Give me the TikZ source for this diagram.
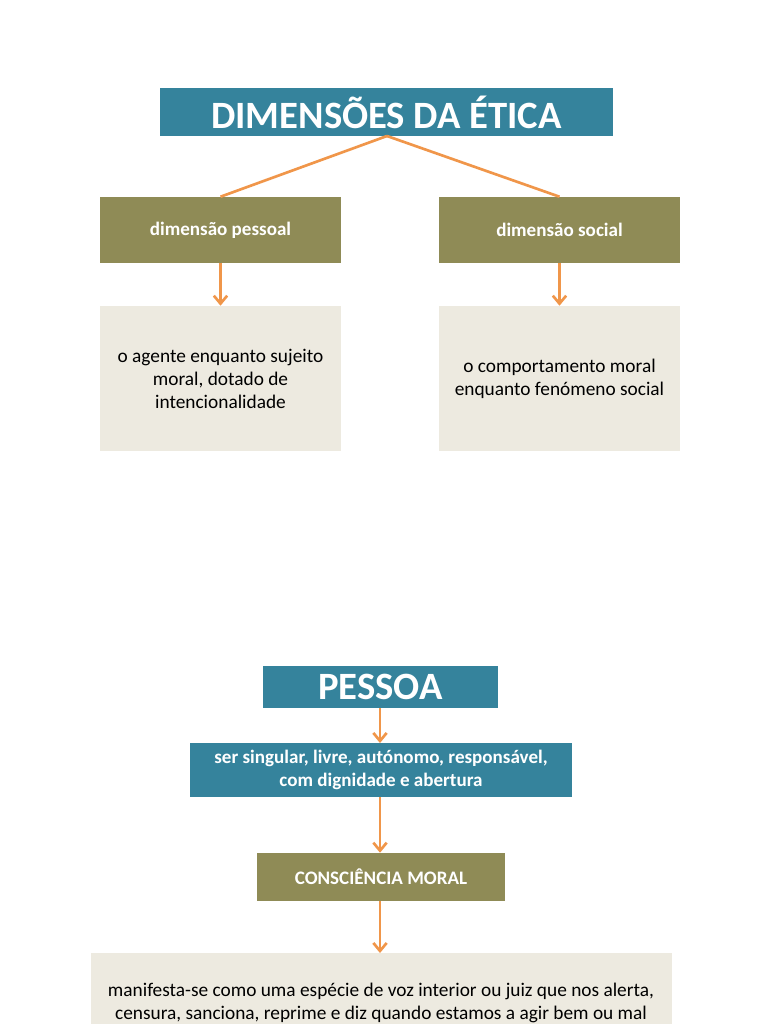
\documentclass[tikz,border=0pt]{standalone}
\usepackage{fontspec}
\setmainfont{Carlito}
\usetikzlibrary{arrows.meta}
\definecolor{teal}{HTML}{35839C}
\definecolor{olive}{HTML}{8F8B56}
\definecolor{pale}{HTML}{EDEAE0}
\definecolor{org}{HTML}{F0964A}
\begin{document}
\begin{tikzpicture}[x=0.75pt,y=-0.75pt,
  tbox/.style={fill=teal,text=white,font=\bfseries,inner sep=0},
  obox/.style={fill=olive,text=white,font=\bfseries\fontsize{14.3}{17}\selectfont,inner sep=0},
  pbox/.style={fill=pale,text=black,font=\fontsize{14.5}{17.2}\selectfont,inner sep=0,align=center},
  con/.style={draw=org,line width=2pt},
  arr/.style={con,-{Straight Barb[length=6pt,width=10pt]}}]
\useasboundingbox (0,0) rectangle (768,1024);
\clip (0,0) rectangle (768,1024);
\path[tbox] (160,88) rectangle (613,136);
\node[text=white,font=\bfseries\fontsize{29}{32}\selectfont] (t) at (386.5,112) {DIMENSÕES DA ÉTICA};
\node[obox,minimum width=241*0.75pt,minimum height=66*0.75pt] (dp) at (220.5,230) {dimensão pessoal};
\node[obox,minimum width=241*0.75pt,minimum height=66*0.75pt] (ds) at (559.5,230) {dimensão social};
\node[pbox,minimum width=241*0.75pt,minimum height=145*0.75pt] (ap) at (220.5,378.5) {o agente enquanto sujeito\\moral, dotado de\\intencionalidade};
\node[pbox,minimum width=241*0.75pt,minimum height=145*0.75pt] (as) at (559.5,378.5) {o comportamento moral\\enquanto fenómeno social};
\coordinate (tb) at (387,136);
\draw[con] (tb) -- (dp.north);
\draw[con] (tb) -- (ds.north);
\draw[arr] (dp.south) -- (ap.north);
\draw[arr] (ds.south) -- (as.north);
\node[tbox,minimum width=235*0.75pt,minimum height=42*0.75pt,font=\bfseries\fontsize{29}{32}\selectfont] (p) at (380.5,687) {PESSOA};
\node[tbox,minimum width=382*0.75pt,minimum height=54*0.75pt,font=\bfseries\fontsize{14.3}{17}\selectfont,align=center] (s) at (381,770) {ser singular, livre, autónomo, responsável,\\com dignidade e abertura};
\node[obox,minimum width=248*0.75pt,minimum height=48*0.75pt] (c) at (381,877) {CONSCIÊNCIA MORAL};
\path[fill=pale] (91,953) rectangle (672,1030);
\coordinate (bt) at (381,953);
\node[font=\fontsize{14.5}{17.2}\selectfont,align=center,anchor=north] (m) at (381,978) {manifesta-se como uma espécie de voz interior ou juiz que nos alerta,\\censura, sanciona, reprime e diz quando estamos a agir bem ou mal};
\draw[arr] (380,708) -- (380,743);
\draw[arr] (s.south -| 380,0) -- (c.north -| 380,0);
\draw[arr] (c.south -| 380,0) -- (bt -| 380,0);
\end{tikzpicture}
\end{document}
